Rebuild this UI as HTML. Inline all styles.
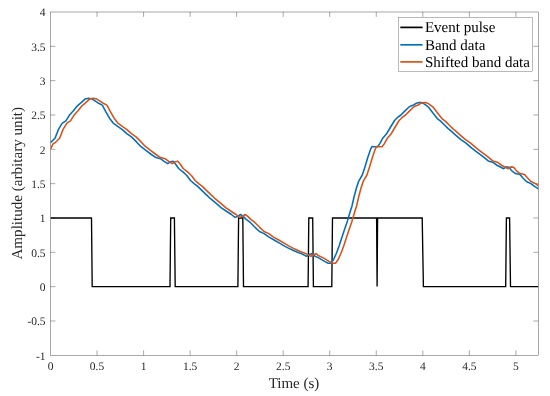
<!DOCTYPE html>
<html><head><meta charset="utf-8"><title>Plot</title>
<style>.t{font-family:"Liberation Serif",serif;text-rendering:geometricPrecision;}html,body{margin:0;padding:0;background:#fff;}body{width:550px;height:396px;position:relative;overflow:hidden;}</style></head>
<body>
<svg width="550" height="396" viewBox="0 0 550 396" style="position:absolute;left:0;top:0">
<rect x="0" y="0" width="550" height="396" fill="#ffffff"/>
<defs><clipPath id="c"><rect x="50.5" y="12.0" width="487.8" height="343.3"/></clipPath></defs>
<g stroke="#262626" stroke-width="0.4" fill="none"><line x1="97.04" y1="355.3" x2="97.04" y2="350.4"/><line x1="97.04" y1="12.0" x2="97.04" y2="16.9"/><line x1="143.58" y1="355.3" x2="143.58" y2="350.4"/><line x1="143.58" y1="12.0" x2="143.58" y2="16.9"/><line x1="190.12" y1="355.3" x2="190.12" y2="350.4"/><line x1="190.12" y1="12.0" x2="190.12" y2="16.9"/><line x1="236.66" y1="355.3" x2="236.66" y2="350.4"/><line x1="236.66" y1="12.0" x2="236.66" y2="16.9"/><line x1="283.20" y1="355.3" x2="283.20" y2="350.4"/><line x1="283.20" y1="12.0" x2="283.20" y2="16.9"/><line x1="329.74" y1="355.3" x2="329.74" y2="350.4"/><line x1="329.74" y1="12.0" x2="329.74" y2="16.9"/><line x1="376.28" y1="355.3" x2="376.28" y2="350.4"/><line x1="376.28" y1="12.0" x2="376.28" y2="16.9"/><line x1="422.82" y1="355.3" x2="422.82" y2="350.4"/><line x1="422.82" y1="12.0" x2="422.82" y2="16.9"/><line x1="469.36" y1="355.3" x2="469.36" y2="350.4"/><line x1="469.36" y1="12.0" x2="469.36" y2="16.9"/><line x1="515.90" y1="355.3" x2="515.90" y2="350.4"/><line x1="515.90" y1="12.0" x2="515.90" y2="16.9"/><line x1="50.5" y1="320.97" x2="55.4" y2="320.97"/><line x1="538.3" y1="320.97" x2="533.4" y2="320.97"/><line x1="50.5" y1="286.64" x2="55.4" y2="286.64"/><line x1="538.3" y1="286.64" x2="533.4" y2="286.64"/><line x1="50.5" y1="252.31" x2="55.4" y2="252.31"/><line x1="538.3" y1="252.31" x2="533.4" y2="252.31"/><line x1="50.5" y1="217.98" x2="55.4" y2="217.98"/><line x1="538.3" y1="217.98" x2="533.4" y2="217.98"/><line x1="50.5" y1="183.65" x2="55.4" y2="183.65"/><line x1="538.3" y1="183.65" x2="533.4" y2="183.65"/><line x1="50.5" y1="149.32" x2="55.4" y2="149.32"/><line x1="538.3" y1="149.32" x2="533.4" y2="149.32"/><line x1="50.5" y1="114.99" x2="55.4" y2="114.99"/><line x1="538.3" y1="114.99" x2="533.4" y2="114.99"/><line x1="50.5" y1="80.66" x2="55.4" y2="80.66"/><line x1="538.3" y1="80.66" x2="533.4" y2="80.66"/><line x1="50.5" y1="46.33" x2="55.4" y2="46.33"/><line x1="538.3" y1="46.33" x2="533.4" y2="46.33"/><rect x="50.5" y="12.0" width="487.8" height="343.3"/></g>
<g clip-path="url(#c)" fill="none" stroke-linejoin="round">
<polyline points="50.5,218.0 91.5,218.0 92.2,286.6 170.0,286.6 170.7,218.0 174.4,218.0 175.2,286.6 237.9,286.6 238.6,218.0 242.8,218.0 243.5,286.6 308.1,286.6 308.8,218.0 312.7,218.0 313.4,286.6 331.8,286.6 332.5,218.0 376.6,218.0 377.1,286.6 377.6,218.0 422.2,218.0 423.4,286.6 505.7,286.6 506.4,218.0 509.6,218.0 510.5,286.6 538.3,286.6" stroke="#000" stroke-width="1.35" stroke-linejoin="miter"/>
<polyline points="50.5,142.7 55.0,138.2 58.6,129.1 62.3,123.1 65.9,120.9 69.5,115.1 73.2,110.9 76.8,106.4 81.4,102.4 85.0,99.1 88.6,98.2 92.3,99.1 97.7,102.7 102.3,105.1 105.9,111.8 109.5,118.2 113.2,123.1 117.7,126.4 122.3,129.6 126.8,133.6 131.4,136.9 135.5,140.9 140.5,146.2 145.9,150.4 151.4,154.5 155.9,157.6 160.5,158.7 164.1,161.3 167.7,163.6 170.5,161.8 173.2,161.3 175.9,164.5 178.6,168.5 183.2,172.2 186.8,175.5 190.5,180.5 194.1,183.6 197.7,186.4 202.3,190.9 206.5,194.9 210.5,198.7 215.9,203.1 221.4,207.8 226.8,211.5 231.4,214.5 235.0,217.3 237.7,216.4 240.5,214.5 243.2,216.4 245.9,219.1 250.5,222.7 255.0,227.3 259.5,231.5 264.1,233.6 268.6,236.9 274.1,240.0 279.5,243.1 285.0,246.4 290.3,249.1 295.7,251.4 300.8,253.4 306.4,256.3 309.1,254.5 311.5,253.7 313.6,255.5 319.1,258.1 324.5,261.4 328.2,263.2 330.9,263.2 333.6,259.5 336.4,253.2 339.1,245.9 341.8,237.7 344.5,229.5 347.3,221.4 350.0,212.3 352.0,206.0 354.1,196.8 356.5,187.7 358.6,181.4 362.3,175.0 365.0,166.8 367.7,157.7 370.5,149.5 371.9,146.6 375.0,146.8 377.5,146.8 379.8,143.6 382.5,138.6 386.4,134.1 389.1,129.5 391.8,125.0 394.5,120.5 397.3,117.7 400.9,115.0 404.5,111.4 408.2,107.7 410.9,105.9 413.6,105.0 416.4,103.2 419.1,102.5 421.8,102.6 424.5,104.1 428.2,106.8 431.8,111.4 434.5,115.0 437.3,118.6 440.9,121.4 444.5,125.0 448.2,128.6 451.8,131.7 455.9,135.3 460.9,139.6 466.0,143.1 471.8,148.2 477.3,152.4 482.7,156.4 488.2,160.9 492.7,162.2 497.3,165.5 500.9,167.3 503.6,168.7 506.4,166.9 509.1,167.3 511.8,170.9 515.5,173.6 520.0,174.5 522.7,177.8 526.4,181.5 530.9,183.6 534.5,186.4 538.2,188.7 543.0,191.5" stroke="#0072BD" stroke-width="1.58"/>
<polyline points="50.5,149.1 53.2,143.6 55.1,142.7 59.6,138.2 63.2,129.1 66.9,123.1 70.5,120.9 74.1,115.1 77.8,110.9 81.4,106.4 86.0,102.4 89.6,99.1 93.2,98.2 96.9,99.1 102.3,102.7 106.9,105.1 110.5,111.8 114.1,118.2 117.8,123.1 122.3,126.4 126.9,129.6 131.4,133.6 136.0,136.9 140.1,140.9 145.1,146.2 150.5,150.4 156.0,154.5 160.5,157.6 165.1,158.7 168.7,161.3 172.3,163.6 175.1,161.8 177.8,161.3 180.5,164.5 183.2,168.5 187.8,172.2 191.4,175.5 195.1,180.5 198.7,183.6 202.3,186.4 206.9,190.9 211.1,194.9 215.1,198.7 220.5,203.1 226.0,207.8 231.4,211.5 236.0,214.5 239.6,217.3 242.3,216.4 245.1,214.5 247.8,216.4 250.5,219.1 255.1,222.7 259.6,227.3 264.1,231.5 268.7,233.6 273.2,236.9 278.7,240.0 284.1,243.1 289.6,246.4 294.9,249.1 300.3,251.4 305.4,253.4 311.0,256.3 313.7,254.5 316.1,253.7 318.2,255.5 323.7,258.1 329.1,261.4 332.8,263.2 335.5,263.2 338.2,259.5 341.0,253.2 343.7,245.9 346.4,237.7 349.1,229.5 351.9,221.4 354.6,212.3 356.6,206.0 358.7,196.8 361.1,187.7 363.2,181.4 366.9,175.0 369.6,166.8 372.3,157.7 375.1,149.5 376.5,146.6 379.6,146.8 382.1,146.8 384.4,143.6 387.1,138.6 391.0,134.1 393.7,129.5 396.4,125.0 399.1,120.5 401.9,117.7 405.5,115.0 409.1,111.4 412.8,107.7 415.5,105.9 418.2,105.0 421.0,103.2 423.7,102.5 426.4,102.6 429.1,104.1 432.8,106.8 436.4,111.4 439.1,115.0 441.9,118.6 445.5,121.4 449.1,125.0 452.8,128.6 456.4,131.7 460.5,135.3 465.5,139.6 470.6,143.1 476.4,148.2 481.9,152.4 487.3,156.4 492.8,160.9 497.3,162.2 501.9,165.5 505.5,167.3 508.2,168.7 511.0,166.9 513.7,167.3 516.4,170.9 520.1,173.6 524.6,174.5 527.3,177.8 531.0,181.5 535.5,183.6 539.1,186.4 542.8,188.7 547.6,191.5" stroke="#D95319" stroke-width="1.58"/>
</g>
<g class="t" font-size="11.5" fill="#262626">
<text x="50.50" y="370.4" text-anchor="middle">0</text>
<text x="97.04" y="370.4" text-anchor="middle">0.5</text>
<text x="143.58" y="370.4" text-anchor="middle">1</text>
<text x="190.12" y="370.4" text-anchor="middle">1.5</text>
<text x="236.66" y="370.4" text-anchor="middle">2</text>
<text x="283.20" y="370.4" text-anchor="middle">2.5</text>
<text x="329.74" y="370.4" text-anchor="middle">3</text>
<text x="376.28" y="370.4" text-anchor="middle">3.5</text>
<text x="422.82" y="370.4" text-anchor="middle">4</text>
<text x="469.36" y="370.4" text-anchor="middle">4.5</text>
<text x="515.90" y="370.4" text-anchor="middle">5</text>
<text x="45.6" y="359.60" text-anchor="end">-1</text>
<text x="45.6" y="325.27" text-anchor="end">-0.5</text>
<text x="45.6" y="290.94" text-anchor="end">0</text>
<text x="45.6" y="256.61" text-anchor="end">0.5</text>
<text x="45.6" y="222.28" text-anchor="end">1</text>
<text x="45.6" y="187.95" text-anchor="end">1.5</text>
<text x="45.6" y="153.62" text-anchor="end">2</text>
<text x="45.6" y="119.29" text-anchor="end">2.5</text>
<text x="45.6" y="84.96" text-anchor="end">3</text>
<text x="45.6" y="50.63" text-anchor="end">3.5</text>
<text x="45.6" y="16.30" text-anchor="end">4</text>
</g>
<g class="t" font-size="15.0" fill="#262626">
<text x="294.00" y="387.5" text-anchor="middle">Time (s)</text>
<text transform="translate(22,183.25) rotate(-90)" text-anchor="middle" font-size="15.1">Amplitude (arbitary unit)</text>
</g>
<rect x="398.2" y="17.3" width="134.3" height="54" fill="#fff" stroke="#262626" stroke-width="0.32"/>
<line x1="400.3" y1="27.4" x2="422.6" y2="27.4" stroke="#000" stroke-width="1.7"/>
<text x="424.9" y="32.2" class="t" font-size="15" fill="#000">Event pulse</text>
<line x1="400.3" y1="44.8" x2="422.6" y2="44.8" stroke="#0072BD" stroke-width="1.7"/>
<text x="424.9" y="49.6" class="t" font-size="15" fill="#000">Band data</text>
<line x1="400.3" y1="61.9" x2="422.6" y2="61.9" stroke="#D95319" stroke-width="1.7"/>
<text x="424.9" y="66.7" class="t" font-size="15" fill="#000">Shifted band data</text>
</svg>
</body></html>
